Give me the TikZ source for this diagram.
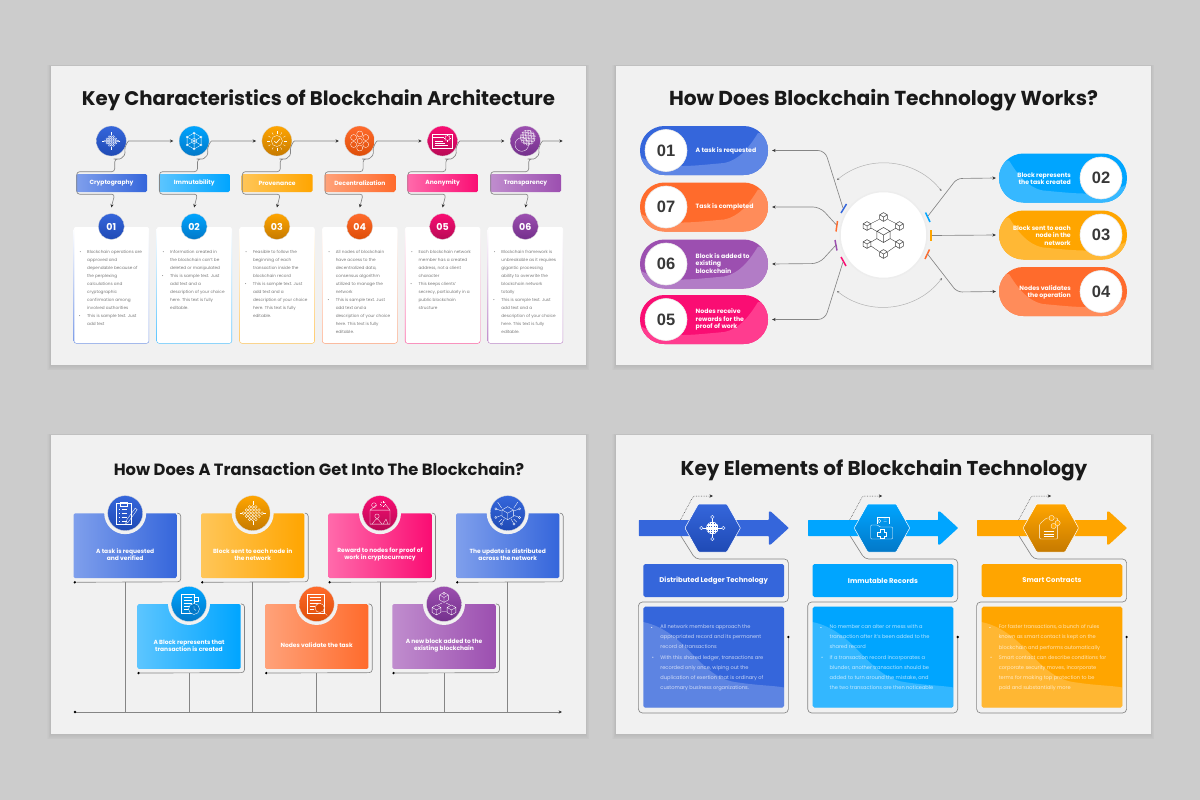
\documentclass[tikz,border=0pt]{standalone}
\usepackage{fontspec}
\setmainfont{Poppins}
\newfontfamily\numfont{Liberation Sans}
\usepackage{tikz}
\usetikzlibrary{positioning,calc,arrows.meta}

\definecolor{pageC}{HTML}{CCCCCC}
\definecolor{panelC}{HTML}{F1F1F1}
\definecolor{linkC}{HTML}{858585}
\definecolor{blueD}{HTML}{3566DB}\definecolor{blueL}{HTML}{7F9FEC}\definecolor{blueM}{HTML}{5E86E5}\definecolor{blueC}{HTML}{1F4AB5}
\definecolor{cyanD}{HTML}{00A5FF}\definecolor{cyanL}{HTML}{5CC5FF}\definecolor{cyanM}{HTML}{36B8FF}\definecolor{cyanC}{HTML}{0278C8}
\definecolor{ambrD}{HTML}{FFA500}\definecolor{ambrL}{HTML}{FFC659}\definecolor{ambrM}{HTML}{FFB835}\definecolor{ambrC}{HTML}{C67A00}
\definecolor{orngD}{HTML}{FF6B2C}\definecolor{orngL}{HTML}{FFA27A}\definecolor{orngM}{HTML}{FF8C5A}\definecolor{orngC}{HTML}{DE4E08}
\definecolor{pinkD}{HTML}{FA0D73}\definecolor{pinkL}{HTML}{FF6AAB}\definecolor{pinkM}{HTML}{FF3C8F}\definecolor{pinkC}{HTML}{B80A55}
\definecolor{purpD}{HTML}{9C4FB0}\definecolor{purpL}{HTML}{C08DCE}\definecolor{purpM}{HTML}{B27CC6}\definecolor{purpC}{HTML}{74308C}

\tikzset{
  panelbox/.style={fill=panelC},
  ttl/.style={font=\bfseries\fontsize{#1}{24}\selectfont,text=black!90},
  link/.style={draw=linkC,line width=.65pt,rounded corners=3pt},
  tip/.style={-{Stealth[length=3.4pt,width=3.2pt,color=black!80]}},
  tipboth/.style={{Stealth[length=3.4pt,width=3.2pt,color=black!80]}-{Stealth[length=3.4pt,width=3.2pt,color=black!80]}},
  dotmark/.style={circle,fill=black,inner sep=0pt,minimum size=2.6pt},
  ball/.style={circle,inner sep=0pt,minimum size=#1,draw=white!85!black,line width=.3pt},
  lblbox/.style={rounded corners=1.5pt,inner sep=0pt,minimum width=71pt,minimum height=18pt,text=white,font=\bfseries\fontsize{6}{7}\selectfont},
  cardtxt/.style={anchor=north west,inner sep=0pt,align=left,text=black!52,font=\fontsize{4.2}{8}\selectfont},
  numtxt/.style={text=white,font=\bfseries\fontsize{9.5}{10}\selectfont},
  pilltxt/.style={inner sep=0pt,text=white,font=\bfseries\fontsize{6.2}{7.3}\selectfont},
  tick/.style={line width=1.5pt},
  arcl/.style={draw=black!30,line width=.5pt,{Stealth[length=2.4pt,width=2.2pt,color=black!55]}-{Stealth[length=2.4pt,width=2.2pt,color=black!55]}},
  boxtxt/.style={align=center,inner sep=0pt,text=white,font=\bfseries\fontsize{5.95}{7}\selectfont},
  blockbox/.style={rounded corners=1.5pt,inner sep=0pt,minimum width=103.4pt,minimum height=64.7pt,shading angle=45},
  bodytxt/.style={anchor=north west,inner sep=0pt,align=left,text=white,text opacity=.72,font=\fontsize{5.1}{10.2}\selectfont},
  icn/.style={draw=white,line width=.33pt},
}
\newcommand{\blt}{\llap{\textbullet\hspace{6.5pt}}}
\newcommand{\tinycube}[4][]{\draw[shift={(#2,#3)},scale=#4,#1] (0,-1)--(.87,-.5)--(.87,.5)--(0,1)--(-.87,.5)--(-.87,-.5)--cycle (0,0)--(0,1) (0,0)--(.87,-.5) (0,0)--(-.87,-.5);}
% icons, drawn around the node given
\newcommand{\icnDots}[2]{\begin{scope}[shift={(#1)},scale=#2,icn]
  \foreach \a in {-3,...,3}{\foreach \b in {-2,...,2}{\pgfmathtruncatemacro\t{abs(\a)+abs(\b)}\ifnum\t<4 \draw (\a*2.3,\b*2.3) circle (1.05); \fi}}
  \draw (-9.5,0)--(-7.8,0) (9.5,0)--(7.8,0) (0,-9)--(0,-5.8) (0,9)--(0,5.8);
\end{scope}}
\newcommand{\icnHex}[1]{\begin{scope}[shift={(#1)},icn]
  \draw (0,-8)--(7,-4)--(7,4)--(0,8)--(-7,4)--(-7,-4)--cycle (0,-8)--(0,8) (-7,-4)--(7,4) (7,-4)--(-7,4);
  \draw (0,0) circle (2.6);
  \foreach \a/\b in {0/-8,7/-4,7/4,0/8,-7/4,-7/-4}{\draw (\a,\b) circle (1);}
\end{scope}}
\newcommand{\icnSun}[1]{\begin{scope}[shift={(#1)},icn]
  \draw (0,0) circle (5.5);
  \draw[line width=.6pt] (-2.6,0)--(-.6,2)--(3,-2.2);
  \foreach \a in {0,30,...,330}{\draw (\a:7.4)--(\a:9.8);}
\end{scope}}
\newcommand{\icnRing}[1]{\begin{scope}[shift={(#1)},icn]
  \foreach \a in {30,90,...,330}{\draw (\a:7) circle (3);}
  \draw (0,0) circle (2.6);
\end{scope}}
\newcommand{\icnCard}[1]{\begin{scope}[shift={(#1)},icn]
  \draw (-10,-6.5) rectangle (10,7);
  \draw (-10,-3.4)--(1,-3.4) (-8,0)--(0,0) (-8,2.2)--(2,2.2) (-8,4.4)--(5,4.4);
  \draw (5,-3) circle (2.4);
  \foreach \a in {0,45,...,315}{\draw ($(5,-3)+(\a:2.4)$)--($(5,-3)+(\a:3.6)$);}
\end{scope}}
\newcommand{\icnGlobe}[1]{\begin{scope}[shift={(#1)},icn]
  \draw (-3.5,3.5) circle (6.8);
  \begin{scope}\clip (2.5,-3.5) circle (7.8);
    \foreach \a in {-6,-4.4,...,12}{\draw (\a,-12)--(\a-1,5);\draw (-6,\a-7)--(11,\a-8);}
  \end{scope}
\end{scope}}
\newcommand{\icnClip}[1]{\begin{scope}[shift={(#1)},icn]
  \draw (-9,-9.5) rectangle (6,11);
  \draw (-5,-11) rectangle (2,-7);
  \foreach \y in {-4,0,4,8}{\draw (-6.5,\y)--(-5,\y) (-3.5,\y)--(1.5,\y);}
  \draw (10,-5)--(12,-3.5)--(3,9)--(.5,10.5)--(1,7.5)--cycle;
\end{scope}}
\newcommand{\icnGift}[1]{\begin{scope}[shift={(#1)},icn]
  \draw (-10,-3) rectangle (10,11) (-10,-3)--(-4,-8) (10,-3)--(6,-8);
  \draw (-3,3) circle (2.2) (-8,11)--(-4,6)--(-2,6)--(2,11) (3,11)--(6,6)--(8,11);
  \draw (-6,-8) circle (2.4);
  \foreach \a in {0,45,...,315}{\draw ($(3,-9)+(\a:1.6)$)--($(3,-9)+(\a:3.2)$);}
\end{scope}}
\newcommand{\icnChip}[1]{\begin{scope}[shift={(#1)},icn]
  \tinycube{0}{0}{6.5}
  \foreach \a in {20,60,120,160,200,340}{\draw (\a:6.5)--(\a:11.5); \draw (\a:12.6) circle (1.1);}
  \draw (-6,6)--(-9,9) (6,6)--(9,9) (-6,-5)--(-10,-11) (6,-5)--(10,-11);
\end{scope}}
\newcommand{\icnDocClock}[1]{\begin{scope}[shift={(#1)},icn]
  \draw (-8,-10) rectangle (5,9);
  \foreach \y in {-7,-4,-1,2,5}{\draw (-5.5,\y)--(2.5,\y);}
  \draw (5,-7)--(9,-7)--(9,-3)--(6,-3);
  \draw[fill=cyanC] (5,5) circle (5.5);
  \draw (5,5)--(5,2) (5,5)--(7,6.5);
\end{scope}}
\newcommand{\icnDocLens}[1]{\begin{scope}[shift={(#1)},icn]
  \draw (-10,-10) rectangle (7,9);
  \foreach \y in {-7,-4,-1}{\draw (-7,\y)--(4,\y);}
  \draw (-7,2)--(-2,2) (-7,5)--(-3,5);
  \draw[fill=orngC] (3,4) circle (4.6);
  \draw (6.3,7.3)--(10.5,11.5);
\end{scope}}
\newcommand{\icnTri}[1]{\begin{scope}[shift={(#1)},icn]
  \tinycube{0}{-6.5}{5}\tinycube{-7.5}{6}{5}\tinycube{7.5}{6}{5}
  \draw (-2,-1)--(-6,1) (2,-1)--(6,1) (-2.5,7.5)--(2.5,7.5);
  \draw (0,-10.5) circle (1.2);
\end{scope}}
\newcommand{\icnNode}[1]{\begin{scope}[shift={(#1)},icn]
  \draw (-11,0)--(11,0) (0,-11)--(0,11);
  \foreach \a/\b in {-11/0,11/0,0/-11,0/11}{\draw[fill=blueD] (\a,\b) circle (1.7);}
  \clip (0,0) circle (6);
  \foreach \a in {-6,-4.2,...,6}{\draw (\a,-6)--(\a,6) (-6,\a)--(6,\a);}
  \draw (0,0) circle (5.9);
\end{scope}}
\newcommand{\icnFolder}[1]{\begin{scope}[shift={(#1)},icn]
  \draw (-5,-4)--(-5,-11)--(7,-11)--(7,-4);
  \draw (-2.5,-7) circle (1.6) (2,-9)--(5,-9) (2,-6.5)--(5,-6.5);
  \draw[rounded corners=1pt] (-11,11)--(-11,-3)--(-4,-3)--(-2,-1)--(11,-1)--(11,11)--cycle;
  \draw (-2,1.5)--(2,1.5)--(2,4)--(4.5,4)--(4.5,8)--(2,8)--(2,10)--(-2,10)--(-2,8)--(-4.5,8)--(-4.5,4)--(-2,4)--cycle;
\end{scope}}
\newcommand{\icnDocGear}[1]{\begin{scope}[shift={(#1)},icn]
  \draw[rotate=0,rounded corners=1pt] (-11,-4)--(-4,-10)--(7,-10)--(7,11)--(-11,11)--cycle;
  \foreach \y in {3,6,8.5}{\draw (-7,\y)--(3,\y);}
  \foreach \a/\b in {1/-10,7/-5,3/-2}{\draw[fill=ambrD] (\a,\b) circle (2.6);}
\end{scope}}

\begin{document}
\begin{tikzpicture}[x=1pt,y=-1pt]
\useasboundingbox (0,0) rectangle (1200,800);
\fill[pageC] (0,0) rectangle (1200,800);
% four panels with a soft edge
\foreach \xa/\ya in {51/66,616/66,51/435,616/435}{
  \foreach \r in {1,...,6}{\fill[black,opacity=.012] (\xa-\r*.6,\ya-\r*.2) rectangle (\xa+534.5+\r*.6,\ya+299+\r*.9);}
  \fill[panelbox] (\xa,\ya) rectangle (\xa+534.5,\ya+299);
}
\node[ttl=19.7] (tA) at (318.5,100.5) {Key Characteristics of Blockchain Architecture};
\node[ttl=20.2] (tB) at (883.5,100.5) {How Does Blockchain Technology Works?};
\node[ttl=16.3] (tC) at (319,469.5) {How Does A Transaction Get Into The Blockchain?};
\node[ttl=20] (tD) at (884,470) {Key Elements of Blockchain Technology};

%% top left: six characteristics
\foreach \i/\nm/\dk/\lt/\cc/\far in {1/Cryptography/blueD/blueL/blueC/62,2/Immutability/cyanD/cyanL/cyanC/62,3/Provenance/ambrD/ambrL/ambrC/62,4/Decentralization/orngD/orngL/orngC/62,5/Anonymity/pinkD/pinkL/pinkC/62,6/Transparency/purpD/purpL/purpC/37.4}{
  \pgfmathsetmacro\xc{111.3+82.8*(\i-1)}
  \node[ball=30pt,top color=\dk,bottom color=\cc] (c\i) at (\xc,141) {};
  \node[lblbox,left color=\lt,right color=\dk] (l\i) at (\xc+.2,183) {\nm};
  \coordinate (n\i) at (\xc,227);
  \coordinate (tip\i) at (\xc+\far,141);
  \shade[rounded corners=2.5pt,top color=white,middle color=white,bottom color=\dk!65] (\xc-37.6,227) rectangle (\xc+37.9,343.5);
  \fill[white,rounded corners=2pt] (\xc-37,227) rectangle (\xc+37.3,342.9);
  \node[ball=26pt,top color=\dk,bottom color=\cc,numtxt] (m\i) at (\xc,226.5) {0\i};
  \draw[link,tipboth] (tip\i) -- ++(-\far+20.4,0) .. controls ++(-4,0) and ++(-1.5,-5) .. ++(-6,12) .. controls ++(-3,5) and ++(3,0) .. ++(-9,6) -- ++(-2,0) -- ++(0,12.7) -- ++(-38,0) -- ++(0,22.5) -- ++(38,0) -- (m\i.north |- 0,207.5);
}
\icnDots{c1}{.95}\icnHex{c2}\icnSun{c3}\icnRing{c4}\icnCard{c5}\icnGlobe{c6}
\node[cardtxt] (d1) at (87,250) {Blockchain operations are\\approved and\\dependable because of\\the perplexing\\calculations and\\cryptographic\\confirmation among\\involved authorities\\\blt This is sample text. Just\\add text};
\node[cardtxt] (d2) at (170,250) {Information created in\\the blockchain can't be\\deleted or manipulated\\\blt This is sample text. Just\\add text and a\\description of your choice\\here. This text is fully\\editable.};
\node[cardtxt] (d3) at (252.8,250) {Feasible to follow the\\beginning of each\\transaction inside the\\blockchain record\\\blt This is sample text. Just\\add text and a\\description of your choice\\here. This text is fully\\editable.};
\node[cardtxt] (d4) at (335.6,250) {All nodes of blockchain\\have access to the\\decentralized data,\\consensus algorithm\\utilized to manage the\\network\\\blt This is sample text. Just\\add text and a\\description of your choice\\here. This text is fully\\editable.};
\node[cardtxt] (d5) at (418.4,250) {Each blockchain network\\member has a created\\address, not a client\\character\\\blt This keeps clients'\\secrecy, particularly in a\\public blockchain\\structure};
\node[cardtxt] (d6) at (501.2,250) {Blockchain framework is\\unbreakable as it requires\\gigantic processing\\ability to overwrite the\\blockchain network\\totally\\\blt This is sample text. Just\\add text and a\\description of your choice\\here. This text is fully\\editable.};
\foreach \i in {1,...,6}{\node[text=black!52,inner sep=0pt,font=\fontsize{4}{4}\selectfont] (b\i) at ($(d\i.north west)+(-6.5,3)$) {\textbullet};}

%% top right: the cycle around the block
\foreach \nm/\xx/\yy/\fl/\dk/\md in {1/640/126/1/blueD/blueM,7/640/182.5/1/orngD/orngM,6/640/239.5/1/purpD/purpM,5/640/295/1/pinkD/pinkM,2/1127/153.5/-1/cyanD/cyanM,3/1127/210.5/-1/ambrD/ambrM,4/1127/267/-1/orngD/orngM}{
  \begin{scope}[shift={(\xx,\yy)},xscale=\fl]
    \node[fill=\dk,rounded corners=24.4pt,inner sep=0pt,minimum width=128pt,minimum height=49pt] (p\nm) at (64,24.5) {};
    \begin{scope}
      \clip[rounded corners=24.4pt] (0,0) rectangle (128,49);
      \fill[\md] (0,31) .. controls (25,44) and (50,40) .. (84,37) .. controls (100,34) and (110,20) .. (118,7) -- (130,7) -- (130,50) -- (0,50) -- cycle;
    \end{scope}
    \node[circle,fill=white,draw=black!8,line width=.6pt,inner sep=0pt,minimum size=42pt,text=black!78,font=\numfont\bfseries\fontsize{16.5}{17}\selectfont] (q\nm) at (26,24.5) {0\nm};
  \end{scope}
}
\node[pilltxt,anchor=west,align=left] (w1) at (695.5,150.5) {A task is requested};
\node[pilltxt,anchor=west,align=left] (w7) at (695.5,207) {Task is completed};
\node[pilltxt,anchor=west,align=left] (w6) at (695.5,263.5) {Block is added to\\existing\\blockchain};
\node[pilltxt,anchor=west,align=left] (w5) at (695.5,319.5) {Nodes receive\\rewards for the\\proof of work};
\node[pilltxt,anchor=east,align=right] (w2) at (1071,178.5) {Block represents\\the task created};
\node[pilltxt,anchor=east,align=right] (w3) at (1071,235.5) {Block sent to each\\node in the\\network};
\node[pilltxt,anchor=east,align=right] (w4) at (1071,292) {Nodes validates\\the operation};
\node[circle,fill=white,draw=black!7,line width=1.5pt,inner sep=0pt,minimum size=87pt] (hub) at (883.5,235) {};
\tinycube[draw=black!75,line width=.5pt]{883.5}{235}{7.5}
\foreach \a/\b in {867/226,883.5/217,867/244,883.5/254,899.5/226,899.5/244}{\tinycube[draw=black!75,line width=.5pt]{\a}{\b}{4.4}}
\draw[black!75,line width=.4pt] (871,223.5)--(879,219.5) (871,246)--(879,251.5) (896,223.5)--(888,219.5) (896,246)--(888,251.5) (871,228)--(877,231.5) (896,228)--(890,231.5) (871,242)--(877,238.5) (896,242)--(890,238.5);
% coloured marks round the hub, and where the lines leave them
\draw[tick,blueD] (841,213)--(846.5,204);
\draw[tick,orngD] (836,231.5)--(837.5,221);
\draw[tick,purpD] (835,240)--(837,250.5);
\draw[tick,pinkD] (841,257)--(846,266);
\draw[tick,cyanD] (925.5,212.5)--(930,222);
\draw[tick,ambrD] (931,230)--(931,241);
\draw[tick,orngD] (925,259)--(929.5,249.5);
\coordinate (tk1) at (843,208);
\coordinate (tk7) at (836.5,225);
\coordinate (tk6) at (836,245);
\coordinate (tk5) at (843,262);
\coordinate (tk2) at (928,216);
\coordinate (tk3) at (932,235.5);
\coordinate (tk4) at (927.5,254);
\draw[link,tip,rounded corners=7pt] (tk1) -- (825,150.5) -- ($(p1.east)+(4,0)$);
\draw[link,tip,rounded corners=7pt] (tk7) -- (820,207) -- ($(p7.east)+(4,0)$);
\draw[link,tip,rounded corners=7pt] (tk6) -- (819,263.5) -- ($(p6.east)+(4,0)$);
\draw[link,tip,rounded corners=7pt] (tk5) -- (825,319.5) -- ($(p5.east)+(4,0)$);
\draw[link,tip,rounded corners=5pt] (tk2) -- (957,178.5) -- ($(p2.west)+(-3,0)$);
\draw[link,tip] (tk3) -- ($(p3.west)+(-3,0)$);
\draw[link,tip,rounded corners=5pt] (tk4) -- (957,292) -- ($(p4.west)+(-3,0)$);
\coordinate (arA) at (837,180);
\coordinate (arB) at (941.5,191);
\coordinate (arC) at (837,291);
\coordinate (arD) at (942,278);
\draw[arcl] (arA) to[bend left=46] (arB);
\draw[arcl] (arC) to[bend right=46] (arD);

%% bottom left: the transaction rail
\coordinate (railA) at (75,712);
\coordinate (railB) at (562,712);
\draw[link,tip] (railA) -- (railB);
\node[dotmark] at (railA) {};
\foreach \i/\xc/\yc/\lt/\dk/\cc/\txt in {1/125.2/545.7/blueL/blueD/blueC/{A task is requested\\and verified},2/252.7/545.7/ambrL/ambrD/ambrC/{Block sent to each node in\\the network},3/380/545.7/pinkL/pinkD/pinkC/{Reward to nodes for proof of\\work in cryptocurrency},4/507.7/545.7/blueL/blueD/blueC/{The update is distributed\\across the network},5/189/636.5/cyanL/cyanD/cyanC/{A Block represents that\\transaction is created},6/316.7/636.5/orngL/orngD/orngC/{Nodes validate the task},7/444/636.5/purpL/purpD/purpC/{A new block added to the\\existing blockchain}}{
  \node[blockbox,left color=\lt,right color=\dk] (s\i) at (\xc,\yc) {};
  \node[boxtxt] (st\i) at ($(s\i.center)+(0,9)$) {\txt};
  \node[circle,fill=panelC,inner sep=0pt,minimum size=42pt] (rg\i) at (s\i.north) {};
  \node[ball=35pt,top color=\dk,bottom color=\cc] (o\i) at (s\i.north) {};
  \coordinate (e\i) at ($(s\i.south)+(0,4)$);
  \node[dotmark] (pt\i) at ($(s\i.south west)+(1.5,4)$) {};
  \draw[link] (s\i.north east) -- ++(3.6,0) -- ++(0,68.7) -- (pt\i);
  \draw[link] (e\i) -- (e\i |- railA);
}
\icnClip{o1}\icnDots{o2}{1.35}\icnGift{o3}\icnChip{o4}\icnDocClock{o5}\icnDocLens{o6}\icnTri{o7}

%% bottom right: three elements
\foreach \i/\xc/\nm/\dk/\cc in {1/713.7/Distributed Ledger Technology/blueD/blueC,2/883/Immutable Records/cyanD/cyanC,3/1051.9/Smart Contracts/ambrD/ambrC}{
  \coordinate (hx\i) at (\xc-1.3,528);
  \fill[\dk,rounded corners=.6pt] ($(hx\i)+(-73.6,-8)$) -- ++(130,0) -- ++(0,-8.5) -- ++(2,0) -- ++(18,16.5) -- ++(-18,16.5) -- ++(-2,0) -- ++(0,-8.5) -- ++(-130,0) -- cycle;
  \shade[top color=\dk,bottom color=\cc,draw=white!85,line width=.5pt,rounded corners=.8pt] ($(hx\i)+(-27.5,0)$) -- ++(13.5,-24) -- ++(28.5,0) -- ++(13.5,24) -- ++(-13.5,24) -- ++(-28.5,0) -- cycle;
  \node[fill=\dk,rounded corners=1.8pt,inner sep=0pt,minimum width=140.7pt,minimum height=33pt,text=white,font=\bfseries\fontsize{6.9}{8}\selectfont] (tb\i) at (\xc,580.5) {\nm};
  \node[fill=\dk,rounded corners=1.8pt,inner sep=0pt,minimum width=140.7pt,minimum height=101pt] (bb\i) at (\xc,657.2) {};
  \begin{scope}[shift={(bb\i.north west)}]
    \clip[rounded corners=1.8pt] (0,0) rectangle (140.7,101);
    \fill[white,opacity=.2] (0,15.5) .. controls (45,25) and (55,72) .. (95,76) .. controls (115,79) and (130,79) .. (141,81) -- (141,102) -- (0,102) -- cycle;
  \end{scope}
  \draw[link,densely dotted,line width=.5pt,draw=black!75,tip,rounded corners=1.5pt] ($(hx\i)+(-32,-8)$) -- ++(13,-24) -- ++(19.5,0);
  \draw[link,rounded corners=4pt] ($(hx\i)+(-31.5,8)$) -- ++(14.5,23) -- ++(93,0) -- ++(0,43) -- ++(-150,0) -- ++(0,111) -- ++(150,0) -- ++(0,-76) node[dotmark] (ed\i) {};
}
\icnNode{hx1}\icnFolder{hx2}\icnDocGear{hx3}
\node[bodytxt] (bt1) at (660.2,624.5) {All network members approach the\\appropriated record and its permanent\\record of transactions\\\blt With this shared ledger, transactions are\\recorded only once, wiping out the\\duplication of exertion that is ordinary of\\customary business organizations.};
\node[bodytxt] (bt2) at (829.5,624.5) {No member can alter or mess with a\\transaction after it's been added to the\\shared record\\\blt If a transaction record incorporates a\\blunder, another transaction should be\\added to turn around the mistake, and\\the two transactions are then noticeable};
\node[bodytxt] (bt3) at (998.6,624.5) {For faster transactions, a bunch of rules\\known as smart contact is kept on the\\blockchain and performs automatically\\\blt Smart contact can describe conditions for\\corporate security moves, incorporate\\terms for making top protection to be\\paid and substantially more};
\foreach \i in {1,2,3}{\node[text=white,inner sep=0pt,font=\fontsize{4.6}{4.6}\selectfont] (bd\i) at ($(bt\i.north west)+(-8.5,3.5)$) {\textbullet};}
\end{tikzpicture}
\end{document}
